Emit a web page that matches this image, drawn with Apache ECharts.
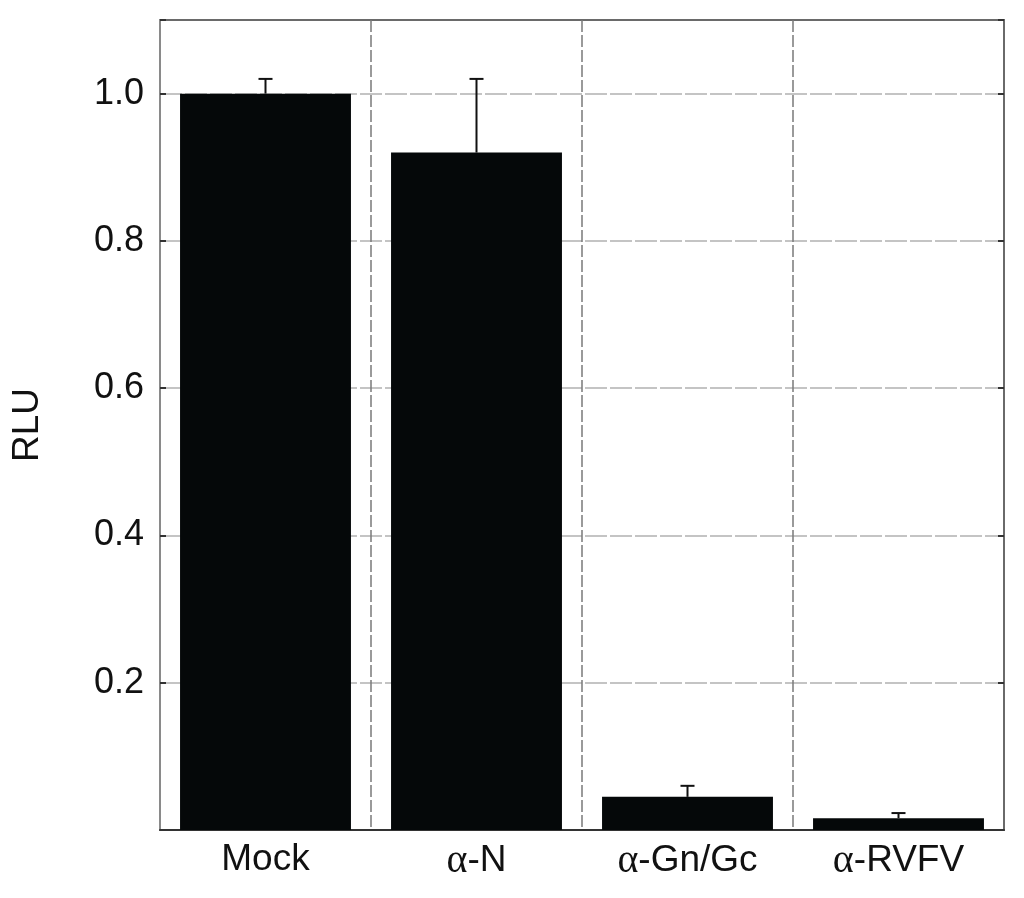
<!DOCTYPE html>
<html>
<head>
<meta charset="utf-8">
<style>
  html, body { margin: 0; padding: 0; background: #fff; }
  #chart { width: 1024px; height: 898px; }
</style>
<script src="https://cdn.jsdelivr.net/npm/echarts@6/dist/echarts.min.js"></script>
</head>
<body>
<div id="chart"></div>
<script>
// data
var categories = ['Mock', 'α-N', 'α-Gn/Gc', 'α-RVFV']
var rluValues = [1.0, 0.92, 0.045, 0.016]
var rluErrors = [0.02, 0.10, 0.015, 0.007]
var yTickLabels = [0.2, 0.4, 0.6, 0.8, 1.0]

var chart = echarts.init(document.getElementById('chart'))

var sansFont = '"Liberation Sans", Arial, sans-serif'
var serifFont = '"Liberation Serif", "DejaVu Serif", serif'

function catLabel(value) {
    if (value.charAt(0) === 'α') {
        return '{a|α}{b|' + value.slice(1) + '}'
    }
    return '{b|' + value + '}'
}

function yLabel(value) {
    for (var i = 0; i < yTickLabels.length; i++) {
        if (Math.abs(yTickLabels[i] - value) < 1e-6) {
            return yTickLabels[i].toFixed(1)
        }
    }
    return ''
}

var errData = rluValues.map(function (v, i) {
    return [i, v, v + rluErrors[i]]
})

chart.setOption({
    backgroundColor: '#fff',
    animation: false,
    grid: {
        left: 160,
        right: 20,
        top: 20,
        bottom: 68,
        show: true,
        borderColor: '#6a6a6a',
        borderWidth: 2,
        backgroundColor: 'transparent'
    },
    xAxis: {
        type: 'category',
        data: categories,
        axisLine: { show: true, lineStyle: { color: '#333', width: 2 } },
        axisTick: { show: false },
        splitLine: {
            show: true,
            interval: 0,
            lineStyle: { color: '#7a7a7a', width: 1.5, type: [12, 3] }
        },
        axisLabel: {
            interval: 0,
            margin: 11,
            color: '#111',
            fontFamily: sansFont,
            fontSize: 37,
            formatter: catLabel,
            rich: {
                a: { fontFamily: serifFont, fontSize: 40, color: '#111' },
                b: { fontFamily: sansFont, fontSize: 37, color: '#111' }
            }
        }
    },
    yAxis: [
        {
            type: 'value',
            min: 0,
            max: 1.1,
            interval: 0.2,
            name: 'RLU',
            nameLocation: 'middle',
            nameGap: 114,
            nameTextStyle: { fontFamily: sansFont, fontSize: 37, color: '#111' },
            axisLine: { show: true, lineStyle: { color: '#8a8a8a', width: 2 } },
            axisTick: { show: true, inside: true, length: 6, lineStyle: { color: '#333', width: 2 } },
            axisLabel: {
                margin: 16,
                color: '#111',
                fontFamily: sansFont,
                fontSize: 36,
                formatter: yLabel
            },
            splitLine: {
                show: true,
                showMinLine: false,
                showMaxLine: false,
                lineStyle: { color: '#c4c4c4', width: 2, type: [22, 3] }
            }
        },
        {
            type: 'value',
            min: 0,
            max: 1.1,
            interval: 0.2,
            position: 'right',
            axisLine: { show: true, lineStyle: { color: '#6a6a6a', width: 2 } },
            axisTick: { show: true, inside: true, length: 6, lineStyle: { color: '#333', width: 2 } },
            axisLabel: { show: false },
            splitLine: { show: false }
        }
    ],
    series: [
        {
            type: 'bar',
            data: rluValues,
            barWidth: '81%',
            itemStyle: { color: '#050809' },
            z: 3
        },
        {
            type: 'custom',
            data: errData,
            z: 4,
            renderItem: function (params, api) {
                var base = api.coord([api.value(0), api.value(1)])
                var top = api.coord([api.value(0), api.value(2)])
                var cap = 7
                return {
                    type: 'group',
                    children: [
                        {
                            type: 'line',
                            shape: { x1: base[0], y1: base[1], x2: top[0], y2: top[1] },
                            style: { stroke: '#111', lineWidth: 2 }
                        },
                        {
                            type: 'line',
                            shape: { x1: top[0] - cap, y1: top[1], x2: top[0] + cap, y2: top[1] },
                            style: { stroke: '#111', lineWidth: 2 }
                        }
                    ]
                }
            }
        }
    ]
})
</script>
</body>
</html>
